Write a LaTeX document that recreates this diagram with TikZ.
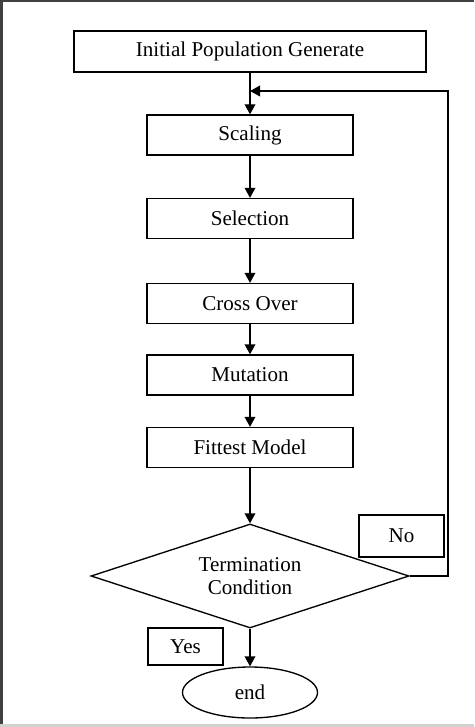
\documentclass[tikz,border=0pt]{standalone}
\usepackage{fontspec}
\setmainfont{Liberation Serif}
\usetikzlibrary{arrows.meta,shapes.geometric}

\begin{document}
\begin{tikzpicture}[x=0.75pt, y=-0.75pt, line width=1pt,
			every node/.style={font=\fontsize{15.8}{17.5}\selectfont},
			s/.style={draw, inner sep=0pt, minimum width=154.5pt, minimum height=30pt},
			lbl/.style={draw, inner sep=0pt},
			arr/.style={-{Triangle[length=7.5pt,width=8pt]}}]
			\useasboundingbox (0,0) rectangle (474,727);
			% frame edges
			\fill[black!75] (0,0) rectangle (474,2);
			\fill[black!75] (0,0) rectangle (3,724);
			\fill[black!18] (0,724) rectangle (474,727);
			\node[lbl, minimum width=264pt, minimum height=30.75pt] (i) at (250,51.5) {Initial Population Generate};
			\node[s] (sc) at (250,135) {Scaling};
			\node[s] (se) at (250,218.5) {Selection};
			\node[s] (c) at (250,303.5) {Cross Over};
			\node[s] (m) at (250,375) {Mutation};
			\node[s] (f) at (250,447.5) {Fittest Model};
			\node[draw, diamond, aspect=3.06, inner sep=0pt, minimum width=238.5pt, minimum height=78pt, align=center] (d) at (250,576) {Termination\\Condition};
			\node[lbl, minimum width=63.75pt, minimum height=31.5pt] (no) at (401.5,536) {No};
			\node[lbl, minimum width=56.25pt, minimum height=27.75pt] (yes) at (185.5,646.5) {Yes};
			\node[draw, ellipse, inner sep=0pt, minimum width=101.25pt, minimum height=38.25pt] (e) at (250,692.5) {end};
			\coordinate (back) at (448,91);
			\coordinate (join) at (250,91);
			\draw[arr] (i) -- (sc);
			\draw[arr] (sc) -- (se);
			\draw[arr] (se) -- (c);
			\draw[arr] (c) -- (m);
			\draw[arr] (m) -- (f);
			\draw[arr] (f) -- (d);
			\draw[arr] (d) -- (e);
			\draw[arr] (d.east) -| (back) -- (join);
		\end{tikzpicture}
\end{document}
